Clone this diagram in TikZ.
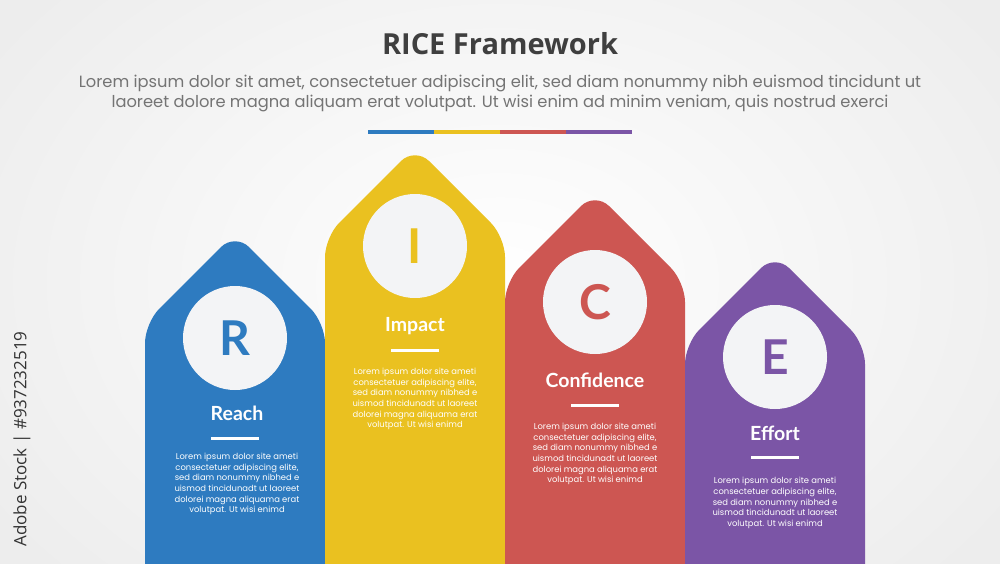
\documentclass[tikz,border=0pt]{standalone}
\usepackage{fontspec}
\setmainfont{Poppins}
\newfontfamily\titlefont{Open Sans}
\newfontfamily\labelfont{Lato}
\definecolor{bluec}{HTML}{2E7BC0}
\definecolor{yellowc}{HTML}{EAC120}
\definecolor{redc}{HTML}{CD5652}
\definecolor{purplec}{HTML}{7B55A6}
\definecolor{circfill}{HTML}{F3F4F6}
\definecolor{titlec}{HTML}{3F3F3F}
\definecolor{subc}{HTML}{747474}
\definecolor{wmc}{HTML}{333333}
\begin{document}
\begin{tikzpicture}[x=1pt,y=-1pt,
  circ/.style={circle, fill=circfill, minimum size=104pt, inner sep=0pt},
  letter/.style={font=\labelfont\bfseries\fontsize{48}{48}\selectfont},
  lbl/.style={font=\labelfont\bfseries\fontsize{19.5}{21}\selectfont, text=white, inner sep=0pt},
  body/.style={font=\fontsize{8.4}{10.6}\selectfont, text=white, align=center, inner sep=0pt},
  uline/.style={draw=white, line width=3pt},
  bar/.style={line width=4pt}]
\useasboundingbox (0,0) rectangle (1000,563);
\clip (0,0) rectangle (1000,563);
\shade[inner color=white, outer color=black!7] (-100,-150) rectangle (1100,713);
% title
\node[font=\titlefont\bfseries\fontsize{29}{31}\selectfont, text=titlec] (title) at (500,44) {RICE Framework};
\node[font=\fontsize{16.3}{20}\selectfont, text=subc, align=center] (sub) at (500,93)
 {Lorem ipsum dolor sit amet, consectetuer adipiscing elit, sed diam nonummy nibh euismod tincidunt ut\\
  laoreet dolore magna aliquam erat volutpat. Ut wisi enim ad minim veniam, quis nostrud exerci};
\draw[bar, bluec] (368,132) -- (434,132);
\draw[bar, yellowc] (434,132) -- (500,132);
\draw[bar, redc] (500,132) -- (566,132);
\draw[bar, purplec] (566,132) -- (632,132);
% columns
\fill[bluec, rounded corners=20pt] (145,600) -- (145,323) -- (235,233) -- (325,323) -- (325,600) -- cycle;
\fill[yellowc, rounded corners=20pt] (325,600) -- (325,237) -- (415,147) -- (505,237) -- (505,600) -- cycle;
\fill[redc, rounded corners=20pt] (505,600) -- (505,282) -- (595,192) -- (685,282) -- (685,600) -- cycle;
\fill[purplec, rounded corners=20pt] (685,600) -- (685,344) -- (775,254) -- (865,344) -- (865,600) -- cycle;
% R
\node[circ] (cR) at (235,338) {};
\node[letter, text=bluec] (lR) at (cR) {R};
\node[lbl] (tR) at (237,413) {Reach};
\draw[uline] (211,438) -- (259,438);
\node[body] (bR) at (237,484) {Lorem ipsum dolor site ameti\\consectetuer adipiscing elite,\\sed diam nonummy nibhed e\\uismod tincidunadt ut laoreet\\dolorei magna aliquama erat\\volutpat. Ut wisi enimd};
% I
\node[circ] (cI) at (415,246) {};
\node[letter, text=yellowc] (lI) at (cI) {I};
\node[lbl] (tI) at (415,326) {Impact};
\draw[uline] (391,350) -- (439,350);
\node[body] (bI) at (415,399) {Lorem ipsum dolor site ameti\\consectetuer adipiscing elite,\\sed diam nonummy nibhed e\\uismod tincidunadt ut laoreet\\dolorei magna aliquama erat\\volutpat. Ut wisi enimd};
% C
\node[circ] (cC) at (595,302) {};
\node[letter, text=redc] (lC) at (cC) {C};
\node[lbl] (tC) at (595,380) {Confidence};
\draw[uline] (571,405) -- (619,405);
\node[body] (bC) at (595,454) {Lorem ipsum dolor site ameti\\consectetuer adipiscing elite,\\sed diam nonummy nibhed e\\uismod tincidunadt ut laoreet\\dolorei magna aliquama erat\\volutpat. Ut wisi enimd};
% E
\node[circ] (cE) at (775,357) {};
\node[letter, text=purplec] (lE) at (cE) {E};
\node[lbl] (tE) at (775,433) {Effort};
\draw[uline] (751,457) -- (799,457);
\node[body] (bE) at (775,503) {Lorem ipsum dolor site ameti\\consectetuer adipiscing elite,\\sed diam nonummy nibhed e\\uismod tincidunadt ut laoreet\\volutpat. Ut wisi enimd};
% side text
\node[rotate=90, font=\titlefont\fontsize{17}{17}\selectfont, text=wmc] (wm) at (22,439) {Adobe Stock | \#937232519};
\end{tikzpicture}
\end{document}
